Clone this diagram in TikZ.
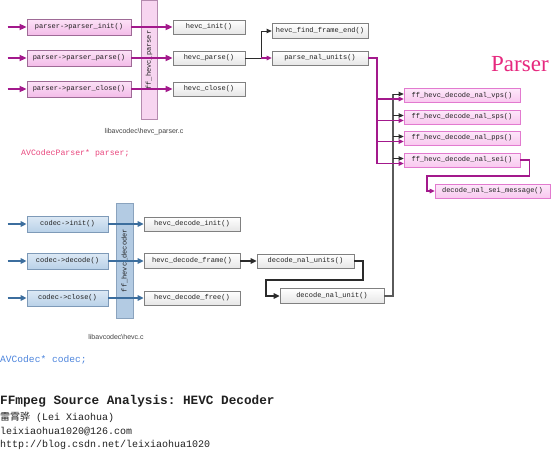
\documentclass[tikz,border=0pt]{standalone}
\usepackage{fontspec}
\setmainfont{Liberation Serif}
\setsansfont{Liberation Sans}
\setmonofont{Liberation Mono}
\newfontfamily\hvCJK{Noto Sans CJK SC}
\usetikzlibrary{arrows.meta,calc}
\definecolor{hvInk}{HTML}{202020}
\definecolor{hvMag}{HTML}{A3198C}
\definecolor{hvPinkTop}{HTML}{FCE2F7}
\definecolor{hvPinkBot}{HTML}{F3BCE8}
\definecolor{hvPinkEdge}{HTML}{9E6A96}
\definecolor{hvVertPink}{HTML}{F7D5F0}
\definecolor{hvVertPinkEdge}{HTML}{B48AAE}
\definecolor{hvNalTop}{HTML}{FDE8FA}
\definecolor{hvNalBot}{HTML}{F9C8EF}
\definecolor{hvNalEdge}{HTML}{E27ACF}
\definecolor{hvGrayEdge}{HTML}{808080}
\definecolor{hvGrayBot}{HTML}{E6E6E6}
\definecolor{hvBlue}{HTML}{3C6E9E}
\definecolor{hvBlueTop}{HTML}{DDE9F5}
\definecolor{hvBlueBot}{HTML}{B9D1E8}
\definecolor{hvBlueEdge}{HTML}{7E9AB8}
\definecolor{hvVertBlue}{HTML}{B3CBE3}
\definecolor{hvVertBlueEdge}{HTML}{8AA3BE}
\definecolor{hvDark}{HTML}{2B2B2B}
\definecolor{hvTrunk}{HTML}{5A5A5A}
\definecolor{hvRose}{HTML}{E6287E}
\definecolor{hvPinkText}{HTML}{E8457C}
\definecolor{hvCodecBlue}{HTML}{4C84DC}
\newcommand{\HVBox}{\ttfamily\fontsize{7}{8}\selectfont}
\tikzset{hv/base/.style={x=1pt,y=-1pt,line cap=butt,line join=miter,
  every node/.style={font=\HVBox,inner sep=0pt,text=hvInk}},
  hv/parser/.style={draw=hvPinkEdge,top color=hvPinkTop,bottom color=hvPinkBot,line width=.8pt,
    minimum width=104pt,minimum height=16pt},
  hv/pvert/.style={draw=hvVertPinkEdge,fill=hvVertPink,line width=.8pt,rotate=90,
    minimum width=119pt,minimum height=16pt},
  hv/func/.style={draw=hvGrayEdge,top color=white,bottom color=hvGrayBot,line width=.7pt,
    minimum width=72pt,minimum height=14pt},
  hv/nal/.style={draw=hvNalEdge,top color=hvNalTop,bottom color=hvNalBot,line width=.7pt,
    minimum width=116pt,minimum height=14pt},
  hv/codec/.style={draw=hvBlueEdge,top color=hvBlueTop,bottom color=hvBlueBot,line width=.8pt,
    minimum width=81pt,minimum height=16pt},
  hv/cvert/.style={draw=hvVertBlueEdge,fill=hvVertBlue,line width=.8pt,rotate=90,
    minimum width=115pt,minimum height=17pt},
  hv/mgarrow/.style={-{Triangle[length=7pt,width=6pt]},draw=hvMag,line width=1.6pt},
  hv/mgthin/.style={-{Triangle[length=5pt,width=4.5pt]},draw=hvMag,line width=1.1pt},
  hv/blarrow/.style={-{Triangle[length=6pt,width=5.5pt]},draw=hvBlue,line width=1.5pt},
  hv/dkarrow/.style={-{Triangle[length=5pt,width=4.5pt]},draw=hvDark,line width=.9pt},
  hv/dkthick/.style={-{Triangle[length=6pt,width=5.5pt]},draw=hvDark,line width=1.8pt},
  hv/trunk/.style={draw=hvTrunk,line width=1.1pt},
  hv/file/.style={font=\sffamily\fontsize{7}{8}\selectfont,text=hvInk!85}}

\begin{document}
\begin{tikzpicture}[hv/base]
  \useasboundingbox (0,0) rectangle (554,453);
  % parser side
  \node[hv/pvert] (pvert) at (149,60) {ff\_hevc\_parser};
  \node[hv/parser] (pinit) at (79,27) {parser->parser\_init()};
  \node[hv/parser] (pparse) at (79,58) {parser->parser\_parse()};
  \node[hv/parser] (pclose) at (79,89) {parser->parser\_close()};
  \node[hv/func] (hinit) at (209,27) {hevc\_init()};
  \node[hv/func] (hparse) at (209,58) {hevc\_parse()};
  \node[hv/func] (hclose) at (209,89) {hevc\_close()};
  \node[hv/func,minimum width=96pt,minimum height=15pt] (hfind) at (320,31) {hevc\_find\_frame\_end()};
  \node[hv/func,minimum width=96pt] (pnal) at (320,58) {parse\_nal\_units()};
  \node[hv/nal] (vps) at (462,95.5) {ff\_hevc\_decode\_nal\_vps()};
  \node[hv/nal] (sps) at (462,117) {ff\_hevc\_decode\_nal\_sps()};
  \node[hv/nal] (pps) at (462,138) {ff\_hevc\_decode\_nal\_pps()};
  \node[hv/nal] (sei) at (462,160) {ff\_hevc\_decode\_nal\_sei()};
  \node[hv/nal,minimum width=115pt] (msg) at (492.5,191) {decode\_nal\_sei\_message()};
  \node[hv/file] (pfile) at (144,132) {libavcodec\textbackslash hevc\_parser.c};
  \node[anchor=west,text=hvPinkText,font=\ttfamily\fontsize{8.2}{9}\selectfont] (pdecl) at (21,153) {AVCodecParser* parser;};
  \node[anchor=west,text=hvRose,font=\rmfamily\fontsize{23}{26}\selectfont] (ptitle) at (491,64) {Parser};
  \foreach \n in {pinit,pparse,pclose}{\draw[hv/mgarrow] ($(\n.west)+(-19,0)$) -- (\n.west);}
  \draw[hv/mgarrow] (pinit.east) -- (hinit.west);
  \draw[hv/mgarrow] (pparse.east) -- (hparse.west);
  \draw[hv/mgarrow] (pclose.east) -- (hclose.west);
  \coordinate (psplit) at (261,58);
  \draw[hv/dkarrow] (hparse.east) -- (psplit) |- (hfind.west);
  \draw[hv/mgthin] (psplit) -- (pnal.west);
  % decoder side
  \node[hv/cvert] (cvert) at (124.5,260.5) {ff\_hevc\_decoder};
  \node[hv/codec] (cinit) at (67.5,224) {codec->init()};
  \node[hv/codec] (cdecode) at (67.5,261) {codec->decode()};
  \node[hv/codec] (cclose) at (67.5,298) {codec->close()};
  \node[hv/func,minimum width=96pt] (dinit) at (192,224) {hevc\_decode\_init()};
  \node[hv/func,minimum width=96pt,minimum height=15pt] (dframe) at (192,261) {hevc\_decode\_frame()};
  \node[hv/func,minimum width=96pt] (dfree) at (192,298) {hevc\_decode\_free()};
  \node[hv/func,minimum width=97pt] (dnals) at (305.5,261) {decode\_nal\_units()};
  \node[hv/func,minimum width=104pt,minimum height=15pt] (dnal) at (332,296) {decode\_nal\_unit()};
  \node[hv/file] (cfile) at (116,337) {libavcodec\textbackslash hevc.c};
  \node[anchor=west,text=hvCodecBlue,font=\ttfamily\fontsize{9.6}{11}\selectfont] (cdecl) at (0,360) {AVCodec* codec;};
  \foreach \n in {cinit,cdecode,cclose}{\draw[hv/blarrow] ($(\n.west)+(-19,0)$) -- (\n.west);}
  \draw[hv/blarrow] (cinit.east) -- (dinit.west);
  \draw[hv/blarrow] (cdecode.east) -- (dframe.west);
  \draw[hv/blarrow] (cclose.east) -- (dfree.west);
  \draw[hv/dkthick] (dframe.east) -- (dnals.west);
  \coordinate (dbend) at (266,280);
  \draw[hv/dkthick] (dnals.east) -- ++(9,0) |- (dbend) |- (dnal.west);
  % nal units: decoder trunk and parser trunk
  \coordinate (ntrunk) at (393,94);
  \draw[hv/trunk] (dnal.east) -| (ntrunk);
  \foreach \n in {vps,sps,pps,sei}{%
    \draw[hv/dkarrow] ($(ntrunk |- \n.west)+(0,-1.5)$) -- ($(\n.west)+(0,-1.5)$);}
  \coordinate (mtrunk) at (377,58);
  \draw[draw=hvMag,line width=1.1pt] (pnal.east) -- (mtrunk) -- ($(mtrunk |- sei.west)+(0,3.5)$);
  \foreach \n in {vps,sps,pps,sei}{%
    \draw[hv/mgthin] ($(mtrunk |- \n.west)+(0,3.5)$) -- ($(\n.west)+(0,3.5)$);}
  \coordinate (sbend) at (427,176);
  \draw[hv/mgthin] (sei.east) -- ++(9,0) |- (sbend) |- (msg.west);
  % credits
  \node[anchor=west,font=\ttfamily\bfseries\fontsize{12.7}{14}\selectfont] (title) at (0,401) {FFmpeg Source Analysis: HEVC Decoder};
  \node[anchor=west,font=\ttfamily\fontsize{10}{11}\selectfont] (author) at (0,417) {{\hvCJK 雷霄骅} (Lei Xiaohua)};
  \node[anchor=west,font=\ttfamily\fontsize{10}{11}\selectfont] (mail) at (0,432) {leixiaohua1020@126.com};
  \node[anchor=west,font=\ttfamily\fontsize{10}{11}\selectfont] (blog) at (0,445) {http://blog.csdn.net/leixiaohua1020};
\end{tikzpicture}
\end{document}
